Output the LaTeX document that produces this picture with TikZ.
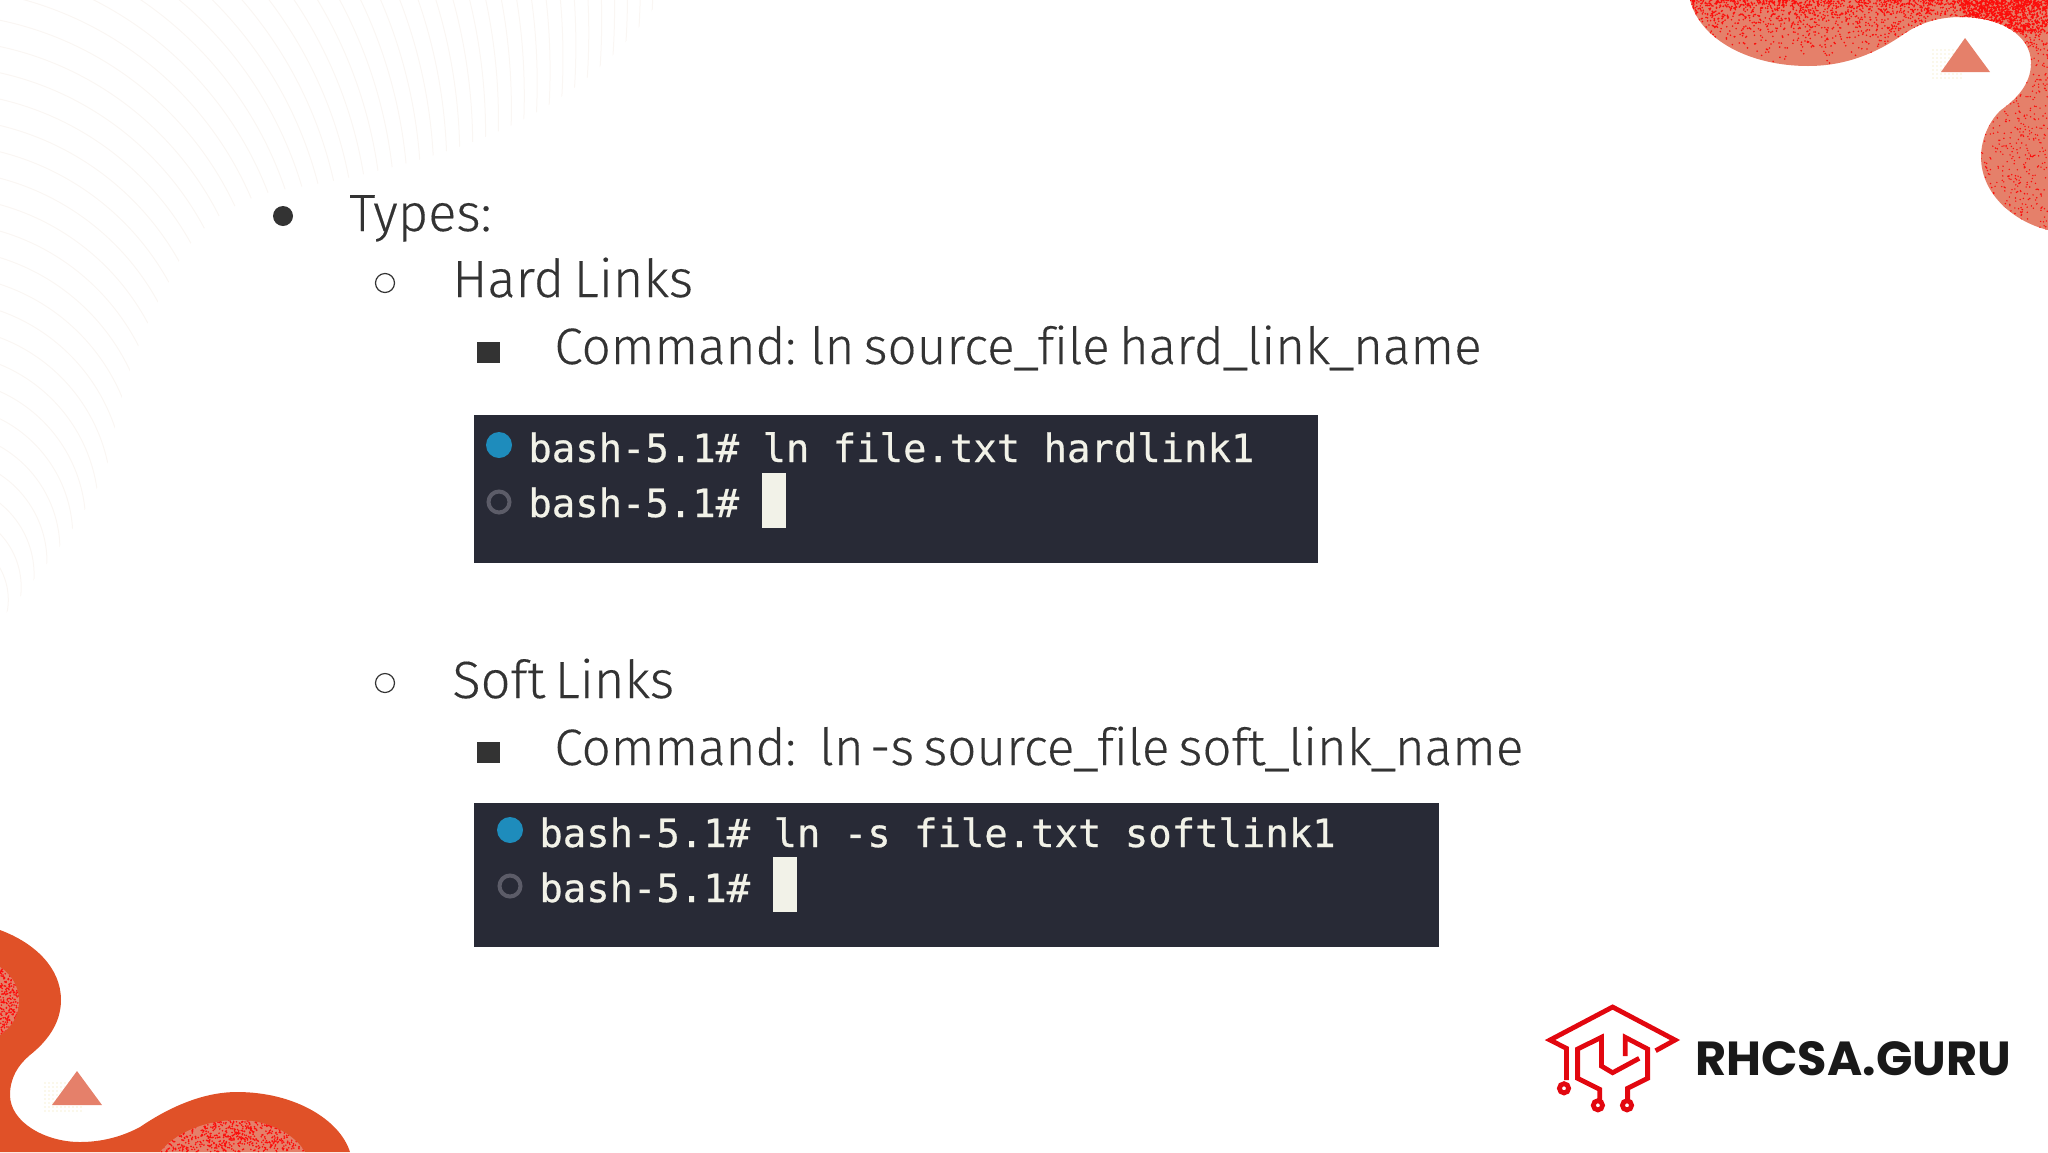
\documentclass[tikz,border=0pt]{standalone}
\usepackage{fontspec}
\setmainfont[FakeBold=0.25,WordSpace=0.65,Ligatures=NoCommon]{Fira Sans Light}
\newfontfamily\logofont{Poppins Bold}
\setmonofont[FakeBold=0.6]{DejaVu Sans Mono}
\usetikzlibrary{positioning}
\definecolor{inkgray}{HTML}{333333}
\definecolor{termbg}{HTML}{282A36}
\definecolor{termfg}{HTML}{F2F2E8}
\definecolor{termblue}{HTML}{1E8CBC}
\definecolor{termring}{HTML}{5C5C68}
\definecolor{salmon}{HTML}{E5806A}
\definecolor{blobred}{HTML}{E05128}
\definecolor{logored}{HTML}{E2070F}
\definecolor{wavetint}{HTML}{FAF6F3}
\definecolor{gridtint}{HTML}{F6F0D6}
\newcommand{\lowbar}{\kern-.035em\_\kern-.035em}
\begin{document}
\begin{tikzpicture}[x=0.5pt,y=-0.5pt,
    bodytext/.style={anchor=base west,inner sep=0pt,text=inkgray,font=\fontsize{25.6}{30}\selectfont},
    headtext/.style={bodytext,font=\fontsize{26.2}{30}\selectfont},
    termtext/.style={anchor=base west,inner sep=0pt,text=termfg,font=\ttfamily\fontsize{19.45}{23}\selectfont},
    termbox/.style={anchor=north west,inner sep=0pt,fill=termbg},
    cursorbox/.style={anchor=north west,inner sep=0pt,fill=termfg,minimum width=12pt,minimum height=27.5pt},
    bluedot/.style={circle,inner sep=0pt,fill=termblue,minimum size=13pt},
    ringdot/.style={circle,inner sep=0pt,draw=termring,line width=2pt,minimum size=10.5pt},
    discbullet/.style={circle,inner sep=0pt,fill=inkgray,minimum size=10pt},
    ringbullet/.style={circle,inner sep=0pt,draw=inkgray,line width=0.6pt,minimum size=9.5pt},
    squarebullet/.style={inner sep=0pt,fill=inkgray,minimum width=11.5pt,minimum height=10.5pt},
    logoline/.style={draw=logored,line width=2.4pt,miter limit=10},
    logopad/.style={draw=logored,fill=white,line width=2.4pt}]
    \useasboundingbox (0,0) rectangle (2048,1152);
    \pgfmathsetseed{4207}
    % faint waves
    \begin{scope}
        \clip (0,620) .. controls (70,540) and (110,480) .. (112,440) .. controls (125,380) and (140,330) .. (170,280)
            .. controls (190,230) and (230,200) .. (280,190) .. controls (350,180) and (430,160) .. (490,135)
            .. controls (550,110) and (610,70) .. (660,0) -- (0,0) -- cycle;
        \foreach \t in {-0.25,-0.22,...,1.35}
            \draw[wavetint,line width=0.5pt] ({-60-20*\t},{520-420*\t}) circle ({150+450*\t});
    \end{scope}
    % top right blob
    \begin{scope}
        \path[clip] (1690,0) .. controls (1700,40) and (1750,66) .. (1808,66) .. controls (1850,66) and (1880,50) .. (1901,36)
            .. controls (1920,22) and (1940,17) .. (1961,17) .. controls (2000,17) and (2031,35) .. (2031,63)
            .. controls (2031,85) and (2015,100) .. (2001,110) .. controls (1990,120) and (1981,138) .. (1981,157)
            .. controls (1981,195) and (2015,222) .. (2048,230) -- (2048,0) -- cycle;
        \fill[salmon] (1680,0) rectangle (2048,240);
        \fill[red!90!salmon] \foreach \k in {1,...,1900} {({1690+358*rnd},{70*rnd*rnd}) circle (0.9)};
        \fill[red!90!salmon] \foreach \k in {1,...,700} {({2048-70*rnd},{230*rnd}) circle (0.8)};
        \fill[red!90!salmon] \foreach \k in {1,...,800} {({1960+88*rnd},{32*rnd}) circle (1)};
    \end{scope}
    % bottom left blob
    \fill[blobred] (0,930) .. controls (35,943) and (61,968) .. (61,1000) .. controls (61,1025) and (45,1043) .. (30,1055)
        .. controls (18,1065) and (10,1078) .. (10,1095) .. controls (10,1122) and (45,1142) .. (80,1142)
        .. controls (105,1142) and (125,1135) .. (140,1127) .. controls (165,1110) and (200,1092) .. (237,1092)
        .. controls (295,1092) and (340,1120) .. (350,1152) -- (0,1152) -- cycle;
    \begin{scope}
        \path[clip] (0,967) .. controls (12,975) and (19,987) .. (19,1001) .. controls (19,1015) and (12,1027) .. (0,1035) -- cycle;
        \fill[salmon] (0,960) rectangle (25,1040);
        \fill[red!90!salmon] \foreach \k in {1,...,260} {({19*rnd},{967+68*rnd}) circle (0.9)};
    \end{scope}
    \begin{scope}
        \path[clip] (160,1152) .. controls (175,1133) and (205,1120) .. (238,1120) .. controls (270,1120) and (295,1135) .. (305,1152) -- cycle;
        \fill[salmon] (155,1115) rectangle (310,1152);
        \fill[red!90!salmon] \foreach \k in {1,...,700} {({160+145*rnd},{1120+32*rnd}) circle (0.9)};
    \end{scope}
    % triangles
    \foreach \gx in {1933,1937,...,1961}
        \foreach \gy in {50,54,...,78}
            \fill[gridtint] (\gx,\gy) circle (0.9);
    \foreach \gx in {45,49,...,81}
        \foreach \gy in {1083,1087,...,1111}
            \fill[gridtint] (\gx,\gy) circle (0.9);
    \fill[salmon] (1965,38) -- (1990,72) -- (1941,72) -- cycle;
    \fill[salmon] (77,1071) -- (102,1105) -- (52,1105) -- cycle;
    % list
    \node[discbullet] (typesdot) at (283,216) {};
    \node[headtext] (types) at (349,231) {Types:};
    \node[ringbullet] (harddot) at (385,283) {};
    \node[headtext] (hard) at (452,297) {Hard Links};
    \node[squarebullet] (hardsq) at (488.5,352.5) {};
    \node[bodytext] (hardcmd) at (554,364) {Command: ln source\lowbar file hard\lowbar link\lowbar name};
    \node[ringbullet] (softdot) at (385,683) {};
    \node[headtext] (soft) at (452,698) {Soft Links};
    \node[squarebullet] (softsq) at (488.5,752.5) {};
    \node[bodytext] (softcmd) at (554,765) {Command: \ {\spaceskip=.12em ln -s} source\lowbar file soft\lowbar link\lowbar name};
    % terminals
    \node[termbox,minimum width=422pt,minimum height=74pt] (hardterm) at (474,415) {};
    \node[bluedot] (hardblue) at (499,445) {};
    \node[ringdot] (hardring) at (499,502) {};
    \node[termtext] (hardline) at (528,462) {bash-5.1\# ln file.txt hardlink1};
    \node[termtext] (hardprompt) at (528,517) {bash-5.1\#};
    \node[cursorbox] (hardcursor) at (762,473) {};
    \node[termbox,minimum width=482.5pt,minimum height=72pt] (softterm) at (474,803) {};
    \node[bluedot] (softblue) at (510,830) {};
    \node[ringdot] (softring) at (510,886) {};
    \node[termtext] (softline) at (539,847) {bash-5.1\# ln -s file.txt softlink1};
    \node[termtext] (softprompt) at (539,902) {bash-5.1\#};
    \node[cursorbox] (softcursor) at (773,857) {};
    % logo
    \draw[logoline] (1566.4,1080) -- (1566.4,1048.3) -- (1550,1040) -- (1612.6,1007) -- (1675,1040) -- (1655.6,1050.7);
    \draw[logoline] (1639.2,1058.3) -- (1612.6,1072.7) -- (1601.4,1066) -- (1601.4,1037.3) -- (1577.6,1049)
        -- (1577.6,1078.3) -- (1599.7,1089.3) -- (1599.7,1100);
    \draw[logoline] (1627.6,1100) -- (1627.6,1088.3) -- (1647.6,1078.3) -- (1647.6,1049) -- (1625.2,1037.3) -- (1625.2,1056);
    \draw[logopad] (1564,1088.3) circle (4.6);
    \draw[logopad] (1597.9,1105.3) circle (4.6);
    \draw[logopad] (1627,1105.3) circle (4.6);
    \node[anchor=base west,inner sep=0pt,text=black!90,font=\logofont\fontsize{23.9}{29}\selectfont] (logotext) at (1695,1075) {RHCSA.GURU};
\end{tikzpicture}
\end{document}
